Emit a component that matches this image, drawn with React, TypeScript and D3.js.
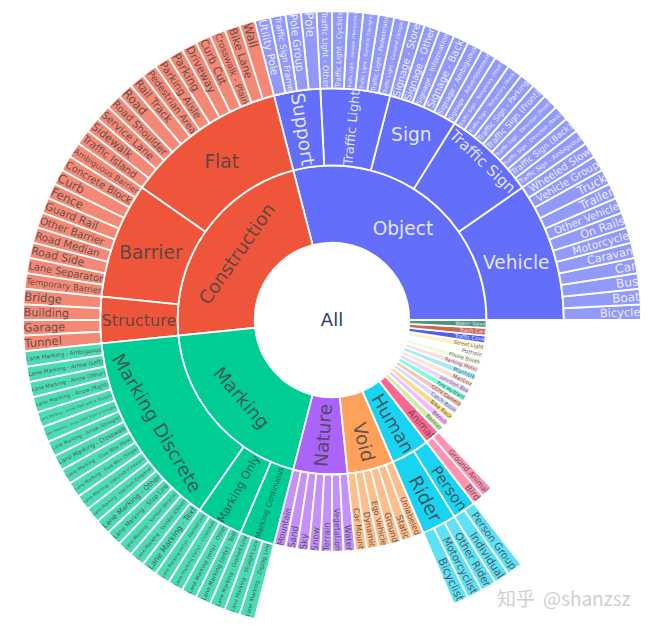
import React, { useMemo } from "react"
import * as d3 from "d3"

const WIDTH = 651
const HEIGHT = 626
const CX = 332
const CY = 320
const RADIUS = 309
const BASE_FONT = 18.6
const ROOT_FONT = 18
const TEXT_PAD = 3
const LEAF_OPACITY = 0.7
const FONT_FAMILY = "'DejaVu Sans', Verdana, sans-serif"

const COLORWAY = ["#636efa", "#EF553B", "#00cc96", "#ab63fa", "#FFA15A", "#19d3f3", "#FF6692", "#B6E880", "#FF97FF", "#FECB52"]

const vehicle = ["Bicycle", "Boat", "Bus", "Car", "Caravan", "Motorcycle", "On Rails", "Other Vehicle", "Trailer", "Truck", "Vehicle Group", "Wheeled Slow"]
const trafficSign = ["Traffic Sign - Ambiguous", "Traffic Sign (Back)", "Traffic Sign - Direction (Back)", "Traffic Sign - Direction (Front)", "Traffic Sign (Front)", "Traffic Sign - Parking", "Traffic Sign - Temporary (Back)", "Traffic Sign - Temporary (Front)"]
const sign = ["Signage - Advertisement", "Signage - Ambiguous", "Signage - Back", "Signage - Information", "Signage - Other", "Signage - Store"]
const trafficLight = ["Traffic Light - General (Single)", "Traffic Light - Pedestrians", "Traffic Light - General (Upright)", "Traffic Light - General (Horizontal)", "Traffic Light - Cyclists", "Traffic Light - Other"]
const support = ["Pole", "Pole Group", "Traffic Sign Frame", "Utility Pole"]
const flat = ["Wall", "Bike Lane", "Crosswalk - Plain", "Curb Cut", "Driveway", "Parking", "Parking Aisle", "Pedestrian Area", "Rail Track", "Road", "Road Shoulder", "Service Lane", "Sidewalk", "Traffic Island"]
const barrier = ["Ambiguous Barrier", "Concrete Block", "Curb", "Fence", "Guard Rail", "Other Barrier", "Road Median", "Road Side", "Lane Separator", "Temporary Barrier"]
const structure = ["Bridge", "Building", "Garage", "Tunnel"]
const markingDiscrete = ["Lane Marking - Ambiguous", "Lane Marking - Arrow (Left)", "Lane Marking - Arrow (Other)", "Lane Marking - Arrow (Right)", "Lane Marking - Arrow (Split Left or Straight)", "Lane Marking - Arrow (Split Right or Straight)", "Lane Marking - Arrow (Straight)", "Lane Marking - Crosswalk", "Lane Marking - Give Way (Row)", "Lane Marking - Give Way (Single)", "Lane Marking - Hatched (Chevron)", "Lane Marking - Hatched (Diagonal)", "Lane Marking - Other", "Lane Marking - Stop Line", "Lane Marking - Symbol (Bicycle)", "Lane Marking - Symbol (Other)", "Lane Marking - Text"]
const markingOnly = ["Lane Marking (only) - Dashed Line", "Lane Marking (only) - Crosswalk", "Lane Marking (only) - Other", "Lane Marking (only) - Test"]
const markingContinuous = ["Lane Marking - Dashed Line", "Lane Marking - Straight Line", "Lane Marking - Zigzag Line"]
const nature = ["Mountain", "Sand", "Sky", "Snow", "Terrain", "Vegetation", "Water"]
const voidClasses = ["Car Mount", "Dynamic", "Ego Vehicle", "Ground", "Static", "Unlabeled"]
const rider = ["Bicyclist", "Motorcyclist", "Other Rider"]
const person = ["Individual", "Person Group"]
const animal = ["Bird", "Ground Animal"]
const objectsAlone = ["Banner", "Bench", "Bike Rack", "Catch Basin", "CCTV Camera", "Fire Hydrant", "Junction Box", "Mailbox", "Manhole", "Parking Meter", "Phone Booth", "Pothole", "Street Light", "Traffic Cone", "Trash Can", "Water Valve"]

type Node = { name: string; children?: Node[] }
const leaves = (names: string[]): Node[] => names.map((name) => ({ name }))
const group = (name: string, names: string[]): Node => ({ name, children: leaves(names) })

const tree: Node = {
    name: "All",
    children: [
        {
            name: "Object",
            children: [group("Vehicle", vehicle), group("Traffic Sign", trafficSign), group("Sign", sign), group("Traffic Light", trafficLight), group("Support", support)],
        },
        {
            name: "Construction",
            children: [group("Flat", flat), group("Barrier", barrier), group("Structure", structure)],
        },
        {
            name: "Marking",
            children: [group("Marking Discrete", markingDiscrete), group("Marking Only", markingOnly), group("Marking Continuous", markingContinuous)],
        },
        group("Nature", nature),
        group("Void", voidClasses),
        { name: "Human", children: [group("Rider", rider), group("Person", person)] },
        group("Animal", animal),
        ...leaves(objectsAlone),
    ],
}

// plotly's extended sunburst colorway: base, then lighter, then darker
const shifted = (c: string, dl: number) => {
    const h = d3.hsl(c)
    h.l = Math.min(1, Math.max(0, h.l + dl))
    return h.formatHex()
}
const extendedColors = [...COLORWAY, ...COLORWAY.map((c) => shifted(c, 0.2)), ...COLORWAY.map((c) => shifted(c, -0.2))]

const contrast = (c: string) => {
    const { r, g, b } = d3.rgb(c)
    return (r * 299 + g * 587 + b * 114) / 1000 < 128 ? "#fff" : "#444"
}

const maxHalfSize = (a: number, halfAngle: number, r: number, ring: number) => {
    const q = a + 1 / (2 * Math.tan(halfAngle))
    return r * Math.min(1 / (Math.sqrt(q * q + 0.5) + q), ring / (Math.sqrt(a * a + ring / 2) + a))
}
const rotation = (t: number) => (((180 / Math.PI) * t + 720) % 180) - 90

type Fit = { scale: number; rCenter: number; rotate: number; pos: number }

const radialFit = (w: number, h: number, r: number, ring: number, half: number, mid: number, pos: number): Fit => {
    const rr = Math.max(0, r - 2 * TEXT_PAD)
    const a = w / h
    const s = maxHalfSize(a, half, rr, ring)
    return { scale: (2 * s) / h, rCenter: Math.cos(s / rr) - (a * s) / rr, rotate: rotation(mid), pos }
}
const tangentFit = (w: number, h: number, r: number, ring: number, half: number, mid: number, pos: number): Fit => {
    const rr = Math.max(0, r - 2 * TEXT_PAD)
    const a = h / w
    const s = maxHalfSize(a, half, rr, ring)
    return { scale: (2 * s) / w, rCenter: Math.cos(s / rr) - (a * s) / rr, rotate: rotation(mid + Math.PI / 2), pos }
}

// same choice of orientation as plotly's insidetextorientation "auto"
const fitLabel = (w: number, h: number, r0: number, r1: number, start: number, stop: number): Fit => {
    const half = 0.5 * Math.min(Math.abs(start - stop), Math.PI)
    const mid = (start + stop) / 2
    const ring = 1 - r0 / r1
    const fits: Fit[] = []
    const crossing = (angle: number, kind: "tan" | "rad") => {
        if ((start > angle && angle > stop) || (start < angle && angle < stop)) {
            const edge = Math.min(Math.abs(angle - start), Math.abs(angle - stop))
            fits.push(kind === "tan" ? tangentFit(w, h, r1, ring, edge, 0, angle) : radialFit(w, h, r1, ring, edge, Math.PI / 2, angle))
        }
    }
    for (let i = 4; i >= -4; i -= 2) crossing(Math.PI * i, "tan")
    for (let i = 4; i >= -4; i -= 2) crossing(Math.PI * (i + 1), "rad")
    const inscribed = Math.min(1 / (1 + 1 / Math.sin(half)), ring / 2)
    const flatFit = { scale: (inscribed * r1 * 2) / Math.hypot(w, h), rCenter: 1 - inscribed, rotate: 0, pos: mid }
    if (flatFit.scale >= 1) return flatFit
    fits.push(flatFit)
    fits.push(radialFit(w, h, r1, ring, half, mid, mid))
    fits.push(tangentFit(w, h, r1, ring, half, mid, mid))
    let best = fits[0]
    for (const f of fits) {
        if (f.scale > best.scale) best = f
        if (best.scale >= 1) break
    }
    return best
}

export default function App() {
    const nodes = useMemo(() => {
        const root = d3.hierarchy<Node>(tree).sum((d) => (d.children ? 0 : 1))
        return d3.partition<Node>().size([2 * Math.PI, RADIUS])(root).descendants()
    }, [])

    const ctx = useMemo(() => {
        const c = document.createElement("canvas").getContext("2d")!
        c.font = `${BASE_FONT}px ${FONT_FAMILY}`
        return c
    }, [])

    const arc = d3.arc<any>()
        .startAngle((d) => Math.PI / 2 - d.x1)
        .endAngle((d) => Math.PI / 2 - d.x0)
        .innerRadius((d) => d.y0)
        .outerRadius((d) => d.y1)

    const topColor = (d: any) => {
        const top = d.ancestors().find((a: any) => a.depth === 1)
        return extendedColors[tree.children!.findIndex((c) => c === top.data)]
    }

    return (
        <svg width={WIDTH} height={HEIGHT} style={{ position: "absolute", left: 0, top: 0 }} fontFamily={FONT_FAMILY}>
            <g transform={`translate(${CX},${CY})`}>
                {nodes.filter((d) => d.depth > 0).map((d, i) => (
                    <path
                        key={i}
                        d={arc(d) as string}
                        fill={topColor(d)}
                        fillOpacity={d.children ? 1 : LEAF_OPACITY}
                        stroke="#fff"
                        strokeWidth={1.8}
                    />
                ))}
                {nodes.map((d, i) => {
                    if (d.depth === 0) {
                        return (
                            <text key={i} textAnchor="middle" dy="0.346em" fontSize={ROOT_FONT} fill="#2a3f5f">
                                {d.data.name}
                            </text>
                        )
                    }
                    const w = ctx.measureText(d.data.name).width
                    const h = BASE_FONT * 1.164
                    const start = Math.PI / 2 - d.x0
                    const stop = Math.PI / 2 - d.x1
                    const fit = fitLabel(w, h, d.y0, d.y1, start, stop)
                    const x = d.y1 * Math.sin(fit.pos) * fit.rCenter
                    const y = -d.y1 * Math.cos(fit.pos) * fit.rCenter
                    return (
                        <text
                            key={i}
                            transform={`translate(${x},${y}) rotate(${fit.rotate})`}
                            textAnchor="middle"
                            dy="0.346em"
                            fontSize={BASE_FONT * Math.min(1, fit.scale)}
                            fill={contrast(topColor(d))}
                            fillOpacity={0.85}
                        >
                            {d.data.name}
                        </text>
                    )
                })}
            </g>
            <text x={497} y={606} fontSize={19} fill="#cfcfcf" fontFamily="'Noto Sans CJK SC', sans-serif">
                知乎<tspan dx={8}>@shanzsz</tspan>
            </text>
        </svg>
    )
}
